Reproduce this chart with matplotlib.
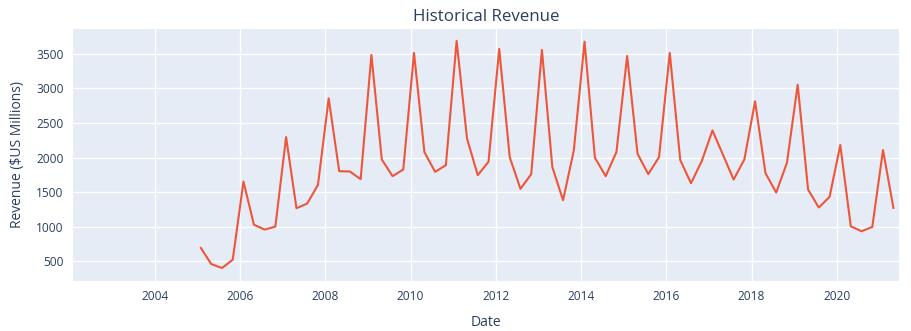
import pandas as pd
import matplotlib.pyplot as plt
import matplotlib.dates as mdates

# Квартальная выручка (млн $), кварталы заканчиваются в янв/апр/июл/окт
dates = pd.date_range('2005-01-31', periods=66, freq='3ME')
revenue = [
    693, 461, 403, 524,
    1654, 1031, 959, 1002,
    2297, 1268, 1336, 1606,
    2857, 1804, 1799, 1688,
    3485, 1973, 1732, 1828,
    3514, 2079, 1794, 1891,
    3688, 2277, 1746, 1939,
    3572, 2007, 1548, 1761,
    3557, 1862, 1384, 2104,
    3678, 1997, 1732, 2079,
    3470, 2055, 1761, 2007,
    3514, 1963, 1630, 1949,
    2393, 2045, 1683, 1973,
    2814, 1775, 1495, 1925,
    3055, 1538, 1278, 1432,
    2181, 1007, 935, 997,
    2109, 1273,
]

text_color = '#2a3f5f'
plt.rcParams['font.family'] = ['Open Sans', 'DejaVu Sans']

fig = plt.figure(figsize=(9.11, 3.31), dpi=100)
ax = fig.add_axes([73.3 / 911, 1 - 280.7 / 331, (899 - 73.3) / 911, (280.7 - 29) / 331])
ax.set_facecolor('#E5ECF6')

ax.plot(dates, revenue, color='#EF553B', linewidth=1.5)

ax.set_xlim(pd.Timestamp('2002-02-03'), pd.Timestamp('2021-06-17'))
ax.set_ylim(220, 3860)
ax.set_yticks([500, 1000, 1500, 2000, 2500, 3000, 3500])
ax.xaxis.set_major_locator(mdates.YearLocator(2))
ax.xaxis.set_major_formatter(mdates.DateFormatter('%Y'))

ax.grid(True, color='white', linewidth=1)
ax.set_axisbelow(True)
for s in ax.spines.values():
    s.set_visible(False)
ax.tick_params(length=0, labelsize=8.6, colors=text_color, pad=7)

ax.set_title('Historical Revenue', fontsize=12.2, color=text_color, pad=6)
ax.set_xlabel('Date', fontsize=10, color=text_color, labelpad=8)
ax.set_ylabel('Revenue (\\$US Millions)', fontsize=10, color=text_color, labelpad=8)

fig.savefig('out.png', dpi=100)
